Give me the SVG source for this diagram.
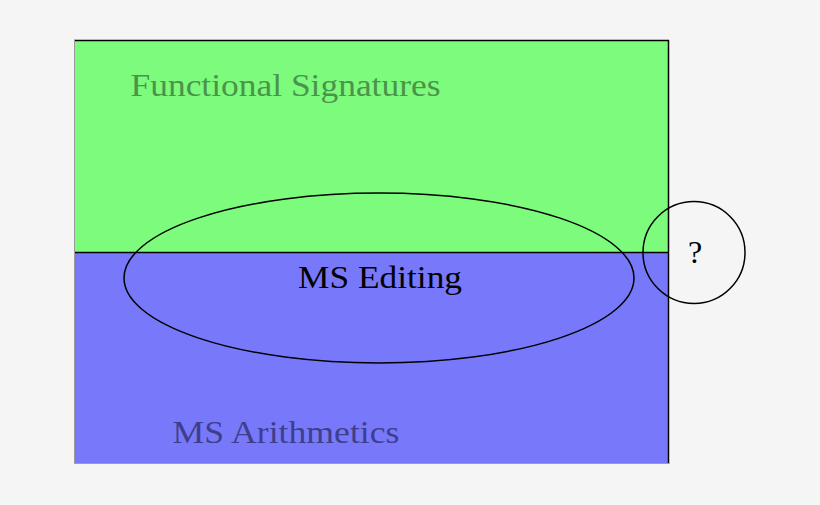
<svg xmlns="http://www.w3.org/2000/svg" width="820" height="505" viewBox="0 0 820 505">
<style>
.lbl{font-family:"Liberation Serif","DejaVu Serif",serif;font-size:32px}
.ln{stroke:#000;stroke-width:1.5;fill:none}
</style>
<rect width="820" height="505" fill="#f5f5f5"/>
<g id="functional-signatures">
<rect x="74.5" y="40.5" width="594" height="212" fill="#7dfb7d"/>
<text class="lbl" x="130.5" y="95.5" fill="#4a944a" textLength="310" lengthAdjust="spacingAndGlyphs">Functional Signatures</text>
</g>
<g id="ms-arithmetics">
<rect x="74.5" y="252.5" width="594" height="211" fill="#7878fb"/>
<text class="lbl" x="172.5" y="442.5" fill="#3e3e8c" textLength="227" lengthAdjust="spacingAndGlyphs">MS Arithmetics</text>
</g>
<g id="borders">
<line class="ln" x1="74" y1="40.5" x2="669" y2="40.5"/>
<line class="ln" x1="668.5" y1="40" x2="668.5" y2="464"/>
<line class="ln" x1="74" y1="252.5" x2="669" y2="252.5"/>
<line x1="74.5" y1="40" x2="74.5" y2="464" stroke="#9a9a9a" stroke-width="1"/>
<line x1="74" y1="463.5" x2="669" y2="463.5" stroke="#9a9ac8" stroke-width="1"/>
</g>
<g id="ms-editing">
<ellipse class="ln" cx="379" cy="278" rx="255" ry="85"/>
<text class="lbl" x="298" y="287.5" fill="#000" textLength="164" lengthAdjust="spacingAndGlyphs">MS Editing</text>
</g>
<g id="unknown">
<circle class="ln" cx="694" cy="252.5" r="51"/>
<text class="lbl" x="695" y="263" fill="#000" text-anchor="middle">?</text>
</g>
</svg>
